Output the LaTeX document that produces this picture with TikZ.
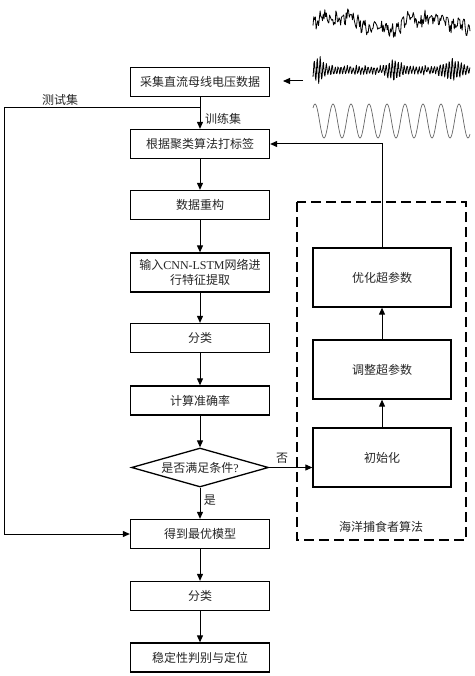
\documentclass[tikz,border=0pt]{standalone}
\usepackage{fontspec}
\setmainfont{Liberation Serif}
\newfontfamily\cjk{Noto Sans CJK SC}
\usepackage{tikz}
\usetikzlibrary{arrows.meta,shapes.geometric}

\begin{document}
\begin{tikzpicture}[x=1pt, y=-1pt,
                    every node/.style={font=\cjk\fontsize{12pt}{15pt}\selectfont, text=black!85},
                    box/.style={draw, line width=1.3pt, minimum width=139pt,
                                minimum height=29pt, inner sep=1pt, align=center},
                    hbox/.style={draw, line width=1.3pt, minimum width=138pt,
                                 minimum height=59pt},
                    arr/.style={line width=1pt, -{Triangle[length=7pt,width=6pt]}},
                    wave/.style={line width=0.8pt, line join=round}]
                      \useasboundingbox (0,0) rectangle (474,676);

                      % main column
                      \foreach \n/\y/\t in {b1/82/采集直流母线电压数据, b2/144/根据聚类算法打标签,
                              b3/205/数据重构, b5/338/分类, b6/400.5/计算准确率,
                              b7/534/得到最优模型, b8/596/分类, b9/657.5/稳定性判别与定位} {
                              \node[box] (\n) at (200,\y) {\t};
                          }
                      \node[box, minimum height=39pt] (b4) at (200,272.5)
                          {输入{\rmfamily CNN-LSTM}网络进\\行特征提取};
                      \node[draw, diamond, line width=1.3pt, aspect=3.5, inner sep=0pt,
                            minimum width=137pt, minimum height=39pt] (dia) at (200,467.5)
                          {是否满足条件{\rmfamily ?}};

                      % optimiser
                      \draw[line width=1.3pt, dash pattern=on 10pt off 5pt] (297,202) rectangle (466,540);
                      \foreach \n/\y/\t in {r1/277.5/优化超参数, r2/369.5/调整超参数, r3/457.5/初始化} {
                              \node[hbox] (\n) at (382,\y) {\t};
                          }
                      \node (mpa) at (381,527) {海洋捕食者算法};

                      \foreach \i/\j in {b1/b2, b2/b3, b3/b4, b4/b5, b5/b6, b6/dia,
                              b7/b8, b8/b9, r3/r2, r2/r1} {
                              \draw[arr] (\i) -- (\j);
                          }
                      \draw[arr] (dia) -- node[pos=0.55, right, yshift=5pt] {是} (b7);
                      \draw[arr] (dia.east) -- node[pos=0.3, above] {否} (dia.east -| r3.west);
                      \draw[arr] (r1.north) |- (b2.east);

                      % test set branch
                      \coordinate (split) at (200,108);
                      \coordinate (leftc) at (4,108);
                      \draw[arr] (split) -- (leftc) |- (b7.west);
                      \node (test) at (60,100) {测试集};
                      \node (train) at (223,119) {训练集};

                      % signals
                      \pgfmathsetmacro{\dummy}{0}
                      \pgfmathsetseed{5}
                      \draw[wave] plot[samples=200, domain=313:470]
                          (\x, {23 + 6*sin(4*\x) + 3*sin(13*\x+20) + 4*sin(65*mod(\x,72)) + 6*(rand)});
                      \draw[wave] plot[samples=330, domain=313:470]
                          (\x, {70 + (3.5 + 10*(1-min(1,abs(\x-319)/9)) + 8*(1-min(1,abs(\x-394)/12))
                                 + 7*(1-min(1,abs(\x-452)/16)))*sin(120*mod(\x,3)) + 1.5*(rand)});
                      \draw[wave, black!60, line width=0.7pt] plot[samples=300, domain=313:470]
                          (\x, {121 - 17*cos((\x-315)*20)});
                      \coordinate (wavein) at (303,81);
                      \coordinate (collect) at (283,81);
                      \draw[arr] (wavein) -- (collect);
                  \end{tikzpicture}
\end{document}
